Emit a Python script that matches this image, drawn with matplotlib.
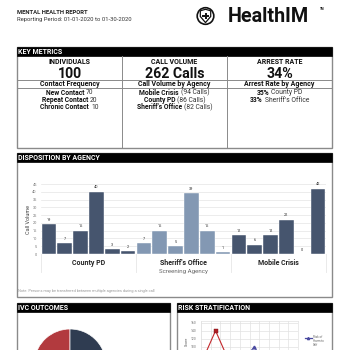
import matplotlib
matplotlib.use('Agg')
import matplotlib.pyplot as plt
from matplotlib.patches import Rectangle, Circle, Polygon
import numpy as np

plt.rcParams['font.family'] = ['Roboto', 'DejaVu Sans']

# ---------------- data ----------------
report_title = "MENTAL HEALTH REPORT"
report_period = "Reporting Period: 01-01-2020 to 01-30-2020"
brand = "HealthIM"

metric_titles = ["INDIVIDUALS", "CALL VOLUME", "ARREST RATE"]
metric_values = ["100", "262 Calls", "34%"]
sub_titles = ["Contact Frequency", "Call Volume by Agency", "Arrest Rate by Agency"]
contact_labels = ["New Contact", "Repeat Contact", "Chronic Contact"]
contact_values = [70, 20, 10]
call_agency_labels = ["Mobile Crisis", "County PD", "Sheriff's Office"]
call_agency_values = [94, 86, 82]
arrest_agency_labels = ["County PD", "Sheriff's Office"]
arrest_agency_values = [35, 33]

agencies = ["County PD", "Sheriff's Office", "Mobile Crisis"]
county_pd = [19, 7, 15, 40, 3, 2]
sheriffs_office = [7, 15, 5, 39, 15, 1]
mobile_crisis = [12, 6, 12, 22, 0, 42]
disp_yticks = [0, 5, 10, 15, 20, 25, 30, 35, 40, 45]

ivc_values = [46.28, 53.72]
ivc_labels = ["46.28%", ""]

risk_categories = list(range(10))
risk_self = [55, 60, 50, 65, 70, 100, 60, 55, 50, 45]
risk_others = [85, 140, 85, 60, 50, 45, 40, 50, 45, 40]
risk_yticks = [100, 120, 140, 160]
risk_grid = [0, 20, 40, 60, 80]

# ---------------- styling ----------------
DARK = '#46556e'
LIGHT = '#8398b3'
RED = '#b23a3e'
NAVY = '#2f3c51'
BORDER = '#8a8a8a'
FS_HEAD = 5.0
FS_ROW = 4.9

fig = plt.figure(figsize=(3.5, 3.5), dpi=100)
fig.patch.set_facecolor('white')
bg = fig.add_axes([0, 0, 1, 1])
bg.set_xlim(0, 350)
bg.set_ylim(350, 0)
bg.axis('off')

def fr(x0, y0, x1, y1):
    """pixel box (top-left origin) -> figure fraction rect"""
    return [x0 / 350, 1 - y1 / 350, (x1 - x0) / 350, (y1 - y0) / 350]

# header
bg.text(17, 13, report_title, fontsize=4.2, fontweight='bold', color='#222', va='center')
bg.text(17, 19.5, report_period, fontsize=4.2, color='#333', va='center')

# logo
bg.add_patch(Circle((205.5, 16), 8.3, fill=False, ec='#111', lw=1.2))
shield = Polygon([(200.3, 10.8), (205.5, 9.3), (210.7, 10.8), (210.7, 16.5),
                  (205.5, 22.6), (200.3, 16.5)], closed=True, fc='white', ec='#111', lw=0.9)
bg.add_patch(shield)
bg.plot([205.5, 205.5], [12.6, 19.0], color='#111', lw=1.4, solid_capstyle='butt')
bg.plot([202.3, 208.7], [15.8, 15.8], color='#111', lw=1.4, solid_capstyle='butt')
bg.text(227.5, 16.8, brand, fontsize=14.2, fontweight='bold', color='#111', va='center', ha='left')
bg.text(320, 9.5, "TM", fontsize=2.2, fontweight='bold', color='#111', va='center')

def panel(x0, y0, x1, y1, title):
    bg.add_patch(Rectangle((x0, y0), x1 - x0, y1 - y0, fill=False, ec=BORDER, lw=1.0))
    bg.add_patch(Rectangle((x0, y0), x1 - x0, 9, fc='black', ec='black', lw=0.5))
    bg.text(x0 + 1.5, y0 + 4.8, title, fontsize=FS_HEAD, fontweight='bold', color='white', va='center')

# ---------------- key metrics ----------------
panel(17, 47, 332, 148, "KEY METRICS")
for xv in [122, 227]:
    bg.plot([xv, xv], [56, 148], color=BORDER, lw=0.7)
for yv in [79.5, 87.5]:
    bg.plot([17, 332], [yv, yv], color=BORDER, lw=0.7)

centers = [69.5, 174.5, 279.5]
for cx, t, v, s in zip(centers, metric_titles, metric_values, sub_titles):
    bg.text(cx, 62.5, t, fontsize=FS_HEAD, fontweight='bold', color='#111', ha='center', va='center')
    bg.text(cx, 73.5, v, fontsize=10.2, fontweight='bold', color='#111', ha='center', va='center')
    bg.text(cx, 83.6, s, fontsize=FS_HEAD, fontweight='bold', color='#111', ha='center', va='center')

renderer = fig.canvas.get_renderer()

def two_part(cx, y, a, b, fs=FS_ROW):
    t1 = bg.text(0, y, a, fontsize=fs, fontweight='bold', color='#111', ha='left', va='center')
    t2 = bg.text(0, y, b, fontsize=fs, fontweight='normal', color='#333', ha='left', va='center')
    w1 = t1.get_window_extent(renderer).width
    w2 = t2.get_window_extent(renderer).width
    gap = 1.8
    start = cx - (w1 + gap + w2) / 2
    t1.set_x(start)
    t2.set_x(start + w1 + gap)

rows_y = [92.6, 100.0, 107.4]
for y, lab, val in zip(rows_y, contact_labels, contact_values):
    two_part(centers[0], y, lab, str(val))
for y, lab, val in zip(rows_y, call_agency_labels, call_agency_values):
    two_part(centers[1], y, lab, f"({val} Calls)")
for y, lab, val in zip(rows_y, arrest_agency_labels, arrest_agency_values):
    two_part(centers[2], y, f"{val}%", lab)

# ---------------- disposition by agency ----------------
panel(17, 153, 332, 297, "DISPOSITION BY AGENCY")
ymax = 46
ax = fig.add_axes(fr(41, 254 - ymax * 70 / 45, 326, 254))
ax.set_facecolor('none')
groups = [county_pd, sheriffs_office, mobile_crisis]
colors = [DARK, LIGHT, DARK]
n = len(county_pd)
for gi, (vals, col) in enumerate(zip(groups, colors)):
    xs = np.arange(n) + gi * n
    ax.bar(xs, vals, width=0.92, color=col, ec='white', lw=0.3, zorder=3)
    for x, v in zip(xs, vals):
        ax.text(x, v + 2.8, str(v), fontsize=2.8, color='#333', ha='center', va='center')
ax.set_xlim(-0.5, 3 * n - 0.5)
ax.set_ylim(0, ymax)
ax.set_yticks(disp_yticks)
ax.set_yticklabels([str(t) for t in disp_yticks], fontsize=2.8, color='#777')
ax.set_xticks([])
ax.tick_params(axis='y', length=0, pad=3)
ax.grid(axis='y', color='#e4e4e4', lw=0.5, zorder=0)
for sp in ax.spines.values():
    sp.set_visible(False)

# group separators and labels
for xv in [41, 136, 231, 326]:
    bg.plot([xv, xv], [254, 272], color='#e6e6e6', lw=0.6)
for gi, name in enumerate(agencies):
    bg.text(41 + 95 * gi + 47.5, 263.2, name, fontsize=5.0, fontweight='bold', color='#222',
            ha='center', va='center')
bg.text(183.5, 272, "Screening Agency", fontsize=4.4, color='#666', ha='center', va='center')
bg.text(28.5, 219, "Call Volume", fontsize=4.0, color='#444', rotation=90, ha='center', va='center')
bg.text(18.5, 291.2, "Note: Persons may be transferred between multiple agencies during a single call",
        fontsize=2.8, color='#999', ha='left', va='center')

# ---------------- IVC outcomes ----------------
panel(17, 303, 170, 400, "IVC OUTCOMES")
pax = fig.add_axes(fr(25, 320, 115, 410))
pax.pie(ivc_values, colors=[RED, NAVY], startangle=90, counterclock=True,
        wedgeprops=dict(ec='white', lw=0.5))
pax.set_aspect('equal')
pax.axis('off')
bg.text(50, 346.8, ivc_labels[0], fontsize=3.9, fontweight='bold', color='white', ha='center', va='center')

# ---------------- risk stratification ----------------
panel(177, 303, 332, 400, "RISK STRATIFICATION")
px_per = 0.4
top_val, bot_val = 165, 0
y_top = 346.7 - (top_val - 100) * px_per
y_bot = 346.7 + (100 - bot_val) * px_per
rax = fig.add_axes(fr(201, y_top, 298, y_bot))
rax.set_facecolor('none')
xs = np.array(risk_categories) + 0.5
rax.plot(xs, risk_others, color='#c4282c', lw=0.8, marker='s', ms=2.4,
         mfc='#b01e23', mec='#7a1015', mew=0.3, zorder=3)
rax.plot(xs, risk_self, color='#4a4aa0', lw=0.8, marker='^', ms=2.0,
         mfc='#4a4aa0', mec='#4a4aa0', zorder=3)
rax.set_xlim(0, 10)
rax.set_ylim(bot_val, top_val)
rax.set_xticks(range(11))
rax.set_xticklabels([])
rax.set_yticks(risk_yticks)
rax.set_yticklabels([str(t) for t in risk_yticks], fontsize=2.4, color='#777')
for g in risk_grid:
    rax.axhline(g, color='#e2e2e2', lw=0.5, zorder=0)
rax.tick_params(length=0, pad=3)
rax.grid(True, color='#e2e2e2', lw=0.5, zorder=0)
for sp in rax.spines.values():
    sp.set_color('#e2e2e2')
    sp.set_linewidth(0.5)
bg.text(186.5, 341.5, "Score", fontsize=2.6, color='#555', rotation=90, ha='center', va='center')
# legend
bg.plot([305, 311.5], [337.6, 337.6], color='#4a4aa0', lw=0.9)
bg.plot([308.2], [337.6], marker='^', ms=1.6, color='#4a4aa0')
bg.text(313, 340.5, "Risk of\nHarm to\nSelf", fontsize=2.2, color='#666', ha='left', va='center',
        linespacing=1.0)
bg.plot([305, 311.5], [354, 354], color='#c4282c', lw=0.9)

fig.savefig('out.png', dpi=100, facecolor='white')
